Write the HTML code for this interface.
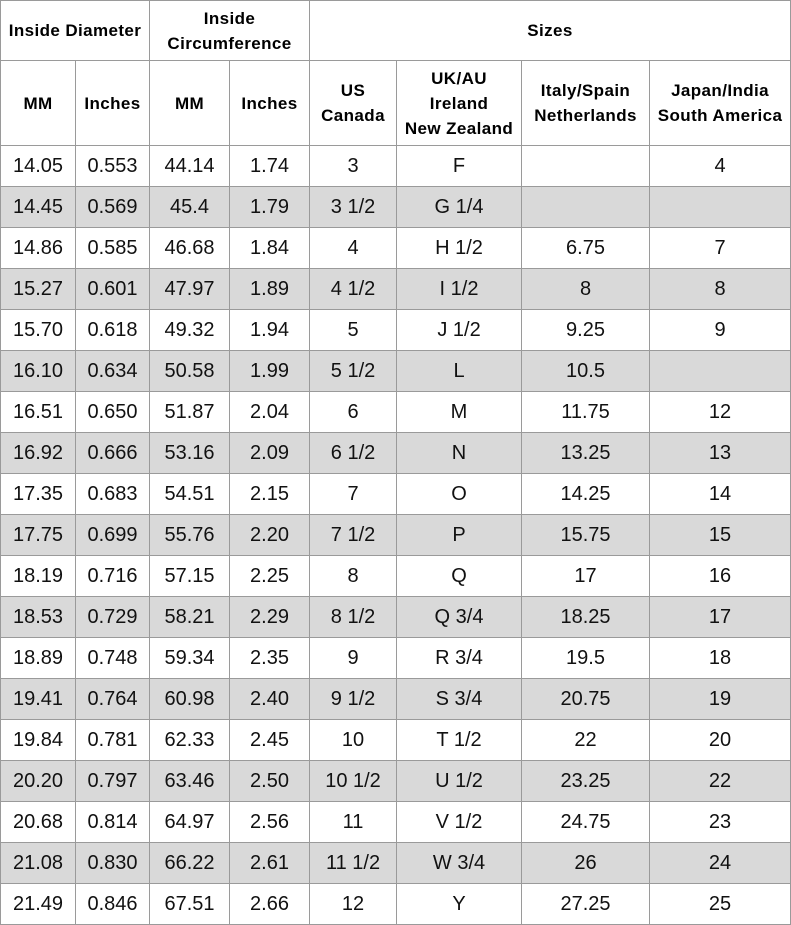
<!DOCTYPE html><html><head><style>
body{margin:0;background:#fff}
table{border-collapse:collapse;table-layout:fixed;width:790px;font-family:"Liberation Sans",Arial,sans-serif;position:absolute;left:0;top:0}
td,th{border:1px solid #9a9a9a;text-align:center;padding:0;overflow:hidden;white-space:nowrap}
th{font-weight:bold;font-size:17px;line-height:25px;color:#000;letter-spacing:0.4px}
td{font-size:20px;height:40px;color:#111}
tr.g td{background:#d9d9d9}
</style></head><body>
<table>
<colgroup><col style="width:75px"><col style="width:74px"><col style="width:80px"><col style="width:80px"><col style="width:87px"><col style="width:125px"><col style="width:128px"><col style="width:141px"></colgroup>
<tr style="height:60px"><th colspan="2">Inside Diameter</th><th colspan="2">Inside<br>Circumference</th><th colspan="4">Sizes</th></tr>
<tr style="height:85px"><th>MM</th><th>Inches</th><th>MM</th><th>Inches</th><th>US<br>Canada</th><th>UK/AU<br>Ireland<br>New Zealand</th><th>Italy/Spain<br>Netherlands</th><th>Japan/India<br>South America</th></tr>
<tr><td>14.05</td><td>0.553</td><td>44.14</td><td>1.74</td><td>3</td><td>F</td><td></td><td>4</td></tr>
<tr class="g"><td>14.45</td><td>0.569</td><td>45.4</td><td>1.79</td><td>3 1/2</td><td>G 1/4</td><td></td><td></td></tr>
<tr><td>14.86</td><td>0.585</td><td>46.68</td><td>1.84</td><td>4</td><td>H 1/2</td><td>6.75</td><td>7</td></tr>
<tr class="g"><td>15.27</td><td>0.601</td><td>47.97</td><td>1.89</td><td>4 1/2</td><td>I 1/2</td><td>8</td><td>8</td></tr>
<tr><td>15.70</td><td>0.618</td><td>49.32</td><td>1.94</td><td>5</td><td>J 1/2</td><td>9.25</td><td>9</td></tr>
<tr class="g"><td>16.10</td><td>0.634</td><td>50.58</td><td>1.99</td><td>5 1/2</td><td>L</td><td>10.5</td><td></td></tr>
<tr><td>16.51</td><td>0.650</td><td>51.87</td><td>2.04</td><td>6</td><td>M</td><td>11.75</td><td>12</td></tr>
<tr class="g"><td>16.92</td><td>0.666</td><td>53.16</td><td>2.09</td><td>6 1/2</td><td>N</td><td>13.25</td><td>13</td></tr>
<tr><td>17.35</td><td>0.683</td><td>54.51</td><td>2.15</td><td>7</td><td>O</td><td>14.25</td><td>14</td></tr>
<tr class="g"><td>17.75</td><td>0.699</td><td>55.76</td><td>2.20</td><td>7 1/2</td><td>P</td><td>15.75</td><td>15</td></tr>
<tr><td>18.19</td><td>0.716</td><td>57.15</td><td>2.25</td><td>8</td><td>Q</td><td>17</td><td>16</td></tr>
<tr class="g"><td>18.53</td><td>0.729</td><td>58.21</td><td>2.29</td><td>8 1/2</td><td>Q 3/4</td><td>18.25</td><td>17</td></tr>
<tr><td>18.89</td><td>0.748</td><td>59.34</td><td>2.35</td><td>9</td><td>R 3/4</td><td>19.5</td><td>18</td></tr>
<tr class="g"><td>19.41</td><td>0.764</td><td>60.98</td><td>2.40</td><td>9 1/2</td><td>S 3/4</td><td>20.75</td><td>19</td></tr>
<tr><td>19.84</td><td>0.781</td><td>62.33</td><td>2.45</td><td>10</td><td>T 1/2</td><td>22</td><td>20</td></tr>
<tr class="g"><td>20.20</td><td>0.797</td><td>63.46</td><td>2.50</td><td>10 1/2</td><td>U 1/2</td><td>23.25</td><td>22</td></tr>
<tr><td>20.68</td><td>0.814</td><td>64.97</td><td>2.56</td><td>11</td><td>V 1/2</td><td>24.75</td><td>23</td></tr>
<tr class="g"><td>21.08</td><td>0.830</td><td>66.22</td><td>2.61</td><td>11 1/2</td><td>W 3/4</td><td>26</td><td>24</td></tr>
<tr><td>21.49</td><td>0.846</td><td>67.51</td><td>2.66</td><td>12</td><td>Y</td><td>27.25</td><td>25</td></tr>
</table>
</body></html>
